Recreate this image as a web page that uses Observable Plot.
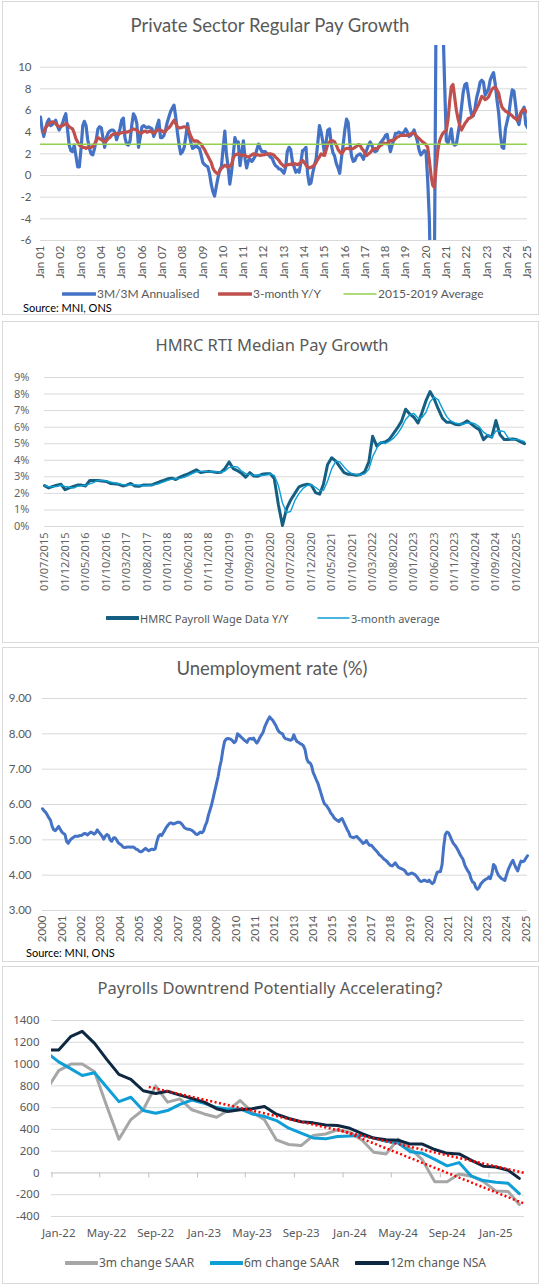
<!DOCTYPE html>
<html><head><meta charset="utf-8">
<script src="https://cdn.jsdelivr.net/npm/d3@7"></script>
<script src="https://cdn.jsdelivr.net/npm/@observablehq/plot@0.6"></script>
<style>
body{margin:0;background:#fff;}
#page{position:relative;width:542px;height:1285px;overflow:hidden;background:#fff;}
.abs{position:absolute;white-space:nowrap;line-height:1;}
.frame{position:absolute;border:1px solid #d9d9d9;box-sizing:border-box;pointer-events:none;}
</style></head><body><div id="page"></div>
<script>
// ---------- Panel 1: Private Sector Regular Pay Growth (monthly from Jan 2001) ----------
const payStart = "2001-01";
const pay3m3mAnnualised = [
 5.4,4.2,3.6,4.3,4.9,5.2,4.6,4.7,4.9,5.1,4.6,4.2,
 4.5,4.8,5.3,5.7,4.3,2.8,2.3,2.2,2.8,1.8,0.8,0.8,
 2.5,4.6,5.0,4.6,3.3,2.5,2.0,1.9,2.5,3.3,4.3,4.5,
 4.4,3.4,2.6,3.5,3.9,4.1,4.2,4.2,4.0,3.3,3.8,4.3,
 5.1,5.3,3.5,2.9,2.8,3.2,4.6,5.7,5.4,4.8,2.6,3.5,
 4.5,4.6,4.5,4.4,4.5,4.4,4.3,3.6,4.0,4.6,5.1,3.5,
 3.5,3.7,4.2,4.9,5.4,5.9,6.2,6.5,5.4,4.0,2.8,2.0,
 2.2,2.6,3.6,4.8,3.8,3.0,2.5,2.6,2.8,2.6,2.5,1.9,
 1.2,1.0,0.9,0.8,0.2,-0.8,-1.5,-1.9,-1.0,-0.2,0.5,0.8,
 2.5,4.1,2.0,0.8,-0.8,0.3,1.8,3.5,3.0,3.1,0.9,2.0,
 3.2,1.5,0.7,1.4,1.5,1.3,1.5,1.8,2.4,2.9,2.5,2.2,
 2.2,2.2,2.0,1.9,1.7,1.6,1.2,0.9,0.8,0.6,0.6,0.4,
 0.2,0.8,2.2,2.6,2.4,1.3,0.8,0.3,0.5,0.3,1.2,2.3,
 2.4,2.6,0.2,-0.8,-0.7,0.2,0.9,1.5,3.0,4.6,4.0,3.1,
 2.0,3.2,4.2,4.3,2.9,2.1,1.8,1.1,0.7,0.2,1.6,2.8,
 4.2,5.2,4.9,3.0,1.8,1.3,1.4,1.8,1.9,2.0,1.8,1.5,
 2.0,2.4,2.8,3.1,2.8,2.3,2.2,2.3,2.7,3.0,3.2,3.4,
 3.7,3.8,3.0,2.2,2.8,3.3,3.9,3.9,4.0,3.9,3.9,4.0,
 4.3,4.0,3.6,3.7,3.9,4.2,3.7,3.1,2.3,1.9,2.1,2.3,
 2.2,-0.5,-4,-12,-14,-8,16,20,18,15,14,8.5,
 3.2,3.0,3.5,4.3,3.0,2.8,2.9,3.9,4.9,6.3,7.7,8.4,
 8.5,7.5,6.4,5.6,5.5,6.2,7.2,7.8,8.6,8.8,8.6,7.4,
 7.7,8.0,8.8,9.2,9.5,8.4,7.0,5.8,3.8,2.6,2.5,4.3,
 5.0,5.7,6.9,7.9,7.8,6.5,5.1,4.7,5.6,6.0,6.3,4.7,
 4.4
];
const pay3mYoY = [
 null,null,4.0,4.4,4.6,4.8,4.9,4.95,4.9,4.8,4.6,4.5,
 4.55,4.6,4.7,4.8,4.7,4.5,4.4,4.3,3.9,3.4,3.1,2.8,
 2.7,2.6,2.6,2.5,2.6,2.6,2.6,2.7,2.9,3.2,3.5,3.4,
 3.3,3.2,3.1,3.2,3.4,3.5,3.7,3.8,3.9,3.85,3.8,3.9,
 3.95,4.0,4.0,4.0,4.05,4.1,4.2,4.3,4.25,4.2,4.0,3.9,
 3.95,4.05,4.1,4.0,4.05,4.1,4.0,3.9,4.0,4.2,4.2,4.2,
 4.1,4.0,4.1,4.3,4.4,4.6,4.85,5.1,4.8,4.5,4.4,4.4,
 4.45,4.5,4.45,4.4,4.0,3.6,3.3,3.15,3.2,3.15,3.0,2.9,
 2.6,2.4,2.1,1.8,1.5,1.2,0.7,0.4,0.25,0.15,0.4,0.65,
 0.8,0.95,0.85,0.75,0.9,1.0,1.6,1.9,1.95,2.0,1.9,1.85,
 1.9,1.85,1.75,1.7,1.8,1.9,2.0,1.95,1.9,1.9,1.85,1.9,
 1.9,1.95,2.0,2.0,2.0,1.95,1.9,1.7,1.55,1.4,1.15,1.0,
 0.85,0.9,1.0,1.0,1.05,1.0,1.1,1.05,1.0,1.1,1.2,1.4,
 1.2,0.95,0.8,0.7,0.75,0.85,0.95,1.2,1.5,1.7,2.0,1.9,
 1.85,2.4,2.9,3.1,3.2,3.2,3.1,2.8,2.4,2.2,2.0,2.2,
 2.45,2.5,2.5,2.45,2.45,2.5,2.6,2.7,2.85,2.8,2.5,2.3,
 2.0,1.85,2.0,2.1,2.3,2.45,2.5,2.45,2.6,2.75,2.85,3.0,
 2.95,2.95,3.1,3.2,3.25,3.25,3.4,3.55,3.6,3.7,3.7,3.7,
 3.7,3.7,3.75,3.85,3.9,3.9,3.7,3.55,3.4,3.25,3.1,3.0,
 2.85,2.6,1.4,0.0,-0.9,-1.1,0.7,2.3,3.2,3.6,3.9,4.05,
 4.15,5.2,6.8,8.2,8.4,7.2,6.0,5.2,4.6,4.2,4.5,4.8,
 5.0,5.25,5.3,5.4,5.6,5.9,6.2,6.5,6.9,7.3,7.2,7.0,
 7.1,7.25,7.6,7.95,8.1,8.15,7.9,7.6,6.8,6.3,6.1,5.95,
 5.85,5.75,5.65,5.5,5.35,5.25,5.1,5.3,5.8,6.0,6.15,5.95,
 5.85
];
const avg2015to2019 = [2.88];
const payYTicks = [-6,-4,-2,0,2,4,6,8,10];
const payTickYears = [2001,2002,2003,2004,2005,2006,2007,2008,2009,2010,2011,2012,2013,2014,2015,2016,2017,2018,2019,2020,2021,2022,2023,2024,2025];

// ---------- Panel 2: HMRC RTI Median Pay Growth (monthly from Jul 2015) ----------
const rtiStart = "2015-07";
const rtiPayrollYoY = [
 2.47,2.33,2.42,2.50,2.55,2.22,
 2.33,2.42,2.50,2.50,2.45,2.78,2.78,2.78,2.75,2.72,2.60,2.58,
 2.55,2.45,2.50,2.60,2.45,2.43,2.50,2.50,2.50,2.60,2.70,2.78,
 2.88,2.92,2.84,2.98,3.08,3.18,3.30,3.42,3.26,3.30,3.33,3.30,
 3.26,3.28,3.50,3.90,3.50,3.38,3.22,2.98,3.25,3.05,3.04,3.15,
 3.18,3.18,2.90,1.30,0.06,1.10,1.60,2.00,2.40,2.50,2.55,2.50,
 2.05,1.95,2.55,3.75,4.15,3.95,3.60,3.25,3.15,3.14,3.10,3.14,
 3.30,3.90,5.45,4.85,5.06,5.10,5.25,5.60,5.95,6.35,7.08,6.80,
 6.60,6.25,6.85,7.60,8.15,7.70,7.10,6.55,6.30,6.30,6.18,6.15,
 6.22,6.38,6.20,6.00,5.85,5.25,5.50,5.40,6.40,5.55,5.25,5.25,
 5.28,5.25,5.12,5.00
];
const rti3mAverage = [
 2.47,2.40,2.41,2.42,2.49,2.42,
 2.37,2.32,2.42,2.47,2.48,2.58,2.67,2.78,2.77,2.75,2.69,2.63,
 2.58,2.53,2.50,2.52,2.52,2.49,2.46,2.48,2.50,2.53,2.60,2.69,
 2.79,2.86,2.88,2.91,2.97,3.08,3.19,3.30,3.33,3.33,3.30,3.31,
 3.30,3.28,3.35,3.56,3.63,3.59,3.37,3.19,3.15,3.09,3.11,3.08,
 3.12,3.17,3.09,2.46,1.42,0.82,0.92,1.57,2.00,2.30,2.48,2.52,
 2.37,2.17,2.18,2.75,3.48,3.95,3.90,3.60,3.33,3.18,3.13,3.13,
 3.18,3.45,4.22,4.73,5.12,5.00,5.14,5.32,5.60,5.97,6.46,6.74,
 6.83,6.55,6.57,6.90,7.53,7.82,7.65,7.12,6.65,6.38,6.26,6.21,
 6.18,6.25,6.27,6.19,6.02,5.70,5.53,5.38,5.77,5.78,5.73,5.35,
 5.26,5.26,5.22,5.12
];
const rtiYTicks = [0,1,2,3,4,5,6,7,8,9];
const rtiTickMonths = ["2015-07","2015-12","2016-05","2016-10","2017-03","2017-08","2018-01","2018-06","2018-11","2019-04","2019-09","2020-02","2020-07","2020-12","2021-05","2021-10","2022-03","2022-08","2023-01","2023-06","2023-11","2024-04","2024-09","2025-02"];

// ---------- Panel 3: Unemployment rate (monthly from Jan 2000) ----------
const unempStart = "2000-01";
const unemploymentRate = [
 5.88,5.82,5.78,5.70,5.62,5.55,5.38,5.28,5.26,5.32,5.38,5.30,
 5.22,5.18,5.15,4.95,4.90,4.98,5.03,5.06,5.10,5.10,5.10,5.12,
 5.12,5.15,5.18,5.17,5.14,5.18,5.22,5.20,5.16,5.20,5.28,5.22,
 5.16,5.10,5.02,5.10,5.15,5.12,5.00,4.96,5.05,5.06,5.00,4.92,
 4.88,4.85,4.80,4.78,4.79,4.80,4.80,4.79,4.80,4.78,4.74,4.72,
 4.68,4.66,4.68,4.72,4.76,4.72,4.69,4.72,4.74,4.72,4.75,4.95,
 5.10,5.15,5.12,5.20,5.28,5.36,5.42,5.47,5.48,5.45,5.46,5.48,
 5.50,5.50,5.47,5.42,5.35,5.32,5.30,5.30,5.28,5.26,5.22,5.17,
 5.15,5.18,5.22,5.20,5.25,5.40,5.50,5.70,5.85,6.00,6.20,6.40,
 6.60,6.80,7.05,7.25,7.55,7.78,7.85,7.87,7.86,7.84,7.80,7.75,
 7.80,8.00,7.97,7.92,7.88,7.83,7.80,7.76,7.85,7.87,7.85,7.88,
 7.80,7.74,7.80,7.90,7.97,8.05,8.20,8.30,8.40,8.48,8.42,8.38,
 8.30,8.22,8.12,8.05,8.02,8.00,7.90,7.86,7.85,7.83,7.82,7.85,
 7.97,7.85,7.78,7.76,7.72,7.70,7.66,7.55,7.30,7.20,7.18,7.10,
 6.90,6.80,6.70,6.60,6.45,6.30,6.15,6.02,5.98,5.92,5.85,5.75,
 5.70,5.62,5.58,5.55,5.52,5.58,5.60,5.50,5.40,5.30,5.22,5.10,
 5.08,5.06,5.08,5.10,5.05,5.00,4.95,4.90,4.92,4.98,4.90,4.85,
 4.85,4.80,4.75,4.70,4.65,4.58,4.55,4.50,4.45,4.42,4.38,4.32,
 4.28,4.26,4.30,4.35,4.28,4.22,4.20,4.18,4.16,4.12,4.05,4.02,
 4.04,4.06,4.05,4.02,3.98,3.92,3.85,3.82,3.84,3.86,3.84,3.82,
 3.86,3.80,3.76,3.80,3.95,4.08,4.10,4.10,4.30,4.80,5.15,5.22,
 5.20,5.10,5.00,4.90,4.85,4.78,4.70,4.60,4.52,4.45,4.30,4.20,
 4.12,4.05,3.90,3.80,3.78,3.65,3.60,3.65,3.75,3.80,3.85,3.88,
 3.90,3.95,3.90,4.05,4.30,4.25,4.10,4.00,3.95,3.90,3.88,3.85,
 4.00,4.15,4.25,4.35,4.42,4.30,4.20,4.12,4.28,4.40,4.38,4.40,
 4.48,4.55
];
const unempYTicks = [3,4,5,6,7,8,9];
const unempTickYears = [2000,2001,2002,2003,2004,2005,2006,2007,2008,2009,2010,2011,2012,2013,2014,2015,2016,2017,2018,2019,2020,2021,2022,2023,2024,2025];

// ---------- Panel 4: Payrolls (monthly from Dec 2021, thousands) ----------
const payrollStart = "2021-12";
const change3mSAAR = [760, 940,1000,1000,930,620,310,490,580,800,650,680,580, 542,512,573,665,558,488,303,261,251,343,358,395, 374,300,190,175,310,225,120,-80,-80,-10,-30,-80, -165,-170,-290];
const change6mSAAR = [1110, 1020,956,895,920,790,655,695,573,548,573,630,670, 640,600,588,588,542,518,481,411,365,322,313,334, 340,345,320,290,275,195,180,125,65,95,-30,-70, -85,-95,-190];
const change12mNSA = [1130, 1130,1255,1300,1190,1045,905,860,755,730,750,715,685, 650,590,565,580,590,610,540,500,470,460,440,435, 410,360,320,305,300,265,265,215,180,175,115,62, 55,25,-50];
const trendUpperDates = ["2022-08-15","2025-03-14"];
const trendUpperValues = [790, 0];
const trendLowerDates = ["2023-12-01","2025-03-14"];
const trendLowerValues = [405, -283];
const payrollYTicks = [-400,-200,0,200,400,600,800,1000,1200,1400];
const payrollTickMonths = ["2022-01","2022-05","2022-09","2023-01","2023-05","2023-09","2024-01","2024-05","2024-09","2025-01"];

// ---------- helpers ----------
const page = document.getElementById("page");
const toDate = s => new Date((s.length === 7 ? s + "-01" : s) + "T00:00:00Z");
const monthly = (start, values) => values.map((v, i) => ({date: d3.utcMonth.offset(toDate(start), i), value: v}));
const GRID = "#d9d9d9", TXT = "#595959";

function frame(top, height) {
  const f = document.createElement("div");
  f.className = "frame";
  Object.assign(f.style, {left: "2px", top: top + "px", width: "537px", height: height + "px"});
  page.appendChild(f);
}
function text(str, x, y, {size = 12, family = "Lato", color = TXT, anchor = "middle"} = {}) {
  const t = document.createElement("div");
  t.className = "abs";
  t.textContent = str;
  Object.assign(t.style, {left: x + "px", top: y + "px", fontSize: size + "px", fontFamily: family, color,
    transform: anchor === "middle" ? "translate(-50%,-50%)" : "translate(0,-50%)"});
  page.appendChild(t);
}
function swatch(x1, x2, y, color, width) {
  const ns = "http://www.w3.org/2000/svg";
  const s = document.createElementNS(ns, "svg");
  s.setAttribute("width", x2 - x1); s.setAttribute("height", 10);
  Object.assign(s.style, {position: "absolute", left: x1 + "px", top: (y - 5) + "px"});
  const l = document.createElementNS(ns, "line");
  l.setAttribute("x1", 1); l.setAttribute("x2", x2 - x1 - 1); l.setAttribute("y1", 5); l.setAttribute("y2", 5);
  l.setAttribute("stroke", color); l.setAttribute("stroke-width", width); l.setAttribute("stroke-linecap", "round");
  s.appendChild(l);
  page.appendChild(s);
}
function place(svg, top) {
  svg.style.position = "absolute"; svg.style.left = "0px"; svg.style.top = top + "px";
  page.appendChild(svg);
}

// ---------- Panel 1 ----------
frame(1, 314);
text("Private Sector Regular Pay Growth", 270, 25, {size: 18.5});
const payBlue = monthly(payStart, pay3m3mAnnualised);
const payRed = monthly(payStart, pay3mYoY);
place(Plot.plot({
  width: 542, height: 248, marginLeft: 40, marginRight: 15, marginTop: 3, marginBottom: 50,
  style: {fontFamily: "Lato", fontSize: "11.5px", color: TXT, background: "transparent"},
  x: {type: "utc", domain: [toDate("2001-01"), toDate("2025-01")], ticks: payTickYears.map(y => toDate(y + "-01")),
      tickFormat: d3.utcFormat("%b %y"), tickRotate: -90, tickSize: 0, tickPadding: 5, label: null},
  y: {domain: [-6, 12], ticks: payYTicks, tickFormat: d => String(d), tickSize: 0, tickPadding: 9, label: null},
  marks: [
    Plot.ruleY(payYTicks, {stroke: GRID, strokeWidth: 1}),
    Plot.line(payBlue, {x: "date", y: "value", stroke: "#4472C4", strokeWidth: 3.2, clip: true}),
    Plot.line(payRed, {x: "date", y: "value", stroke: "#C0504D", strokeWidth: 3.2, clip: true}),
    Plot.ruleY(avg2015to2019, {stroke: "#92D050", strokeWidth: 1.5})
  ]
}), 42);
swatch(62, 96, 294, "#4472C4", 3.5); text("3M/3M Annualised", 97, 294, {size: 12, anchor: "start"});
swatch(218, 252, 294, "#C0504D", 3.5); text("3-month Y/Y", 253, 294, {size: 12, anchor: "start"});
swatch(343, 377, 294, "#92D050", 1.5); text("2015-2019 Average", 378, 294, {size: 12, anchor: "start"});
text("Source: MNI, ONS", 23, 307, {size: 11, color: "#000", anchor: "start"});

// ---------- Panel 2 ----------
frame(321, 322);
text("HMRC RTI Median Pay Growth", 272, 345, {size: 16.5, family: "Noto Sans"});
const rtiDark = monthly(rtiStart, rtiPayrollYoY);
const rtiLight = monthly(rtiStart, rti3mAverage);
place(Plot.plot({
  width: 542, height: 230, marginLeft: 44, marginRight: 18, marginTop: 7, marginBottom: 74,
  style: {fontFamily: "Noto Sans", fontSize: "11px", color: "#666", background: "transparent"},
  x: {type: "utc", domain: [toDate("2015-07"), toDate("2025-04")], ticks: rtiTickMonths.map(toDate),
      tickFormat: d3.utcFormat("01/%m/%Y"), tickRotate: -90, tickSize: 0, tickPadding: 6, label: null},
  y: {domain: [0, 9], ticks: rtiYTicks, tickFormat: d => d + "%", tickSize: 0, tickPadding: 15, label: null},
  marks: [
    Plot.ruleY(rtiYTicks, {stroke: GRID, strokeWidth: 1}),
    Plot.line(rtiDark, {x: "date", y: "value", stroke: "#156082", strokeWidth: 3}),
    Plot.line(rtiLight, {x: "date", y: "value", stroke: "#0F9ED5", strokeWidth: 1.4})
  ]
}), 370);
swatch(106, 139, 618, "#156082", 4); text("HMRC Payroll Wage Data Y/Y", 140, 618, {size: 11, family: "Noto Sans", anchor: "start"});
swatch(317, 350, 618, "#0F9ED5", 1.5); text("3-month average", 351, 618, {size: 11, family: "Noto Sans", anchor: "start"});

// ---------- Panel 3 ----------
frame(647, 315);
text("Unemployment rate (%)", 272, 668, {size: 18.5});
const unemp = monthly(unempStart, unemploymentRate);
place(Plot.plot({
  width: 542, height: 256, marginLeft: 42, marginRight: 15, marginTop: 8, marginBottom: 36,
  style: {fontFamily: "Lato", fontSize: "11.5px", color: TXT, background: "transparent"},
  x: {type: "utc", domain: [toDate("2000-01"), toDate("2025-02")], ticks: unempTickYears.map(y => toDate(y + "-01")),
      tickFormat: d3.utcFormat("%Y"), tickRotate: -90, tickSize: 0, tickPadding: 5, label: null},
  y: {domain: [3, 9], ticks: unempYTicks, tickFormat: d3.format(".2f"), tickSize: 0, tickPadding: 11, label: null},
  marks: [
    Plot.ruleY(unempYTicks, {stroke: GRID, strokeWidth: 1}),
    Plot.line(unemp, {x: "date", y: "value", stroke: "#4472C4", strokeWidth: 3})
  ]
}), 690);
text("Source: MNI, ONS", 26, 952, {size: 11, color: "#000", anchor: "start"});

// ---------- Panel 4 ----------
frame(966, 318);
text("Payrolls Downtrend Potentially Accelerating?", 270, 988, {size: 16.5, family: "Noto Sans"});
const p3m = monthly(payrollStart, change3mSAAR);
const p6m = monthly(payrollStart, change6mSAAR);
const p12m = monthly(payrollStart, change12mNSA);
const trendUpper = trendUpperDates.map((s, i) => ({date: toDate(s), value: trendUpperValues[i]}));
const trendLower = trendLowerDates.map((s, i) => ({date: toDate(s), value: trendLowerValues[i]}));
const axisTickMarks = payrollTickMonths.map(s => d3.utcDay.offset(toDate(s), -17));
place(Plot.plot({
  width: 542, height: 235, marginLeft: 51, marginRight: 18, marginTop: 10, marginBottom: 29,
  style: {fontFamily: "Noto Sans", fontSize: "11.5px", color: TXT, background: "transparent"},
  x: {type: "utc", domain: [toDate("2021-12-14"), toDate("2025-03-14")], ticks: payrollTickMonths.map(toDate),
      tickFormat: d3.utcFormat("%b-%y"), tickSize: 0, tickPadding: 12, label: null},
  y: {domain: [-400, 1400], ticks: payrollYTicks, tickFormat: d => String(d), tickSize: 0, tickPadding: 12, label: null},
  marks: [
    Plot.ruleY(payrollYTicks.filter(v => v !== 0), {stroke: GRID, strokeWidth: 1}),
    Plot.ruleY([0], {stroke: "#bfbfbf", strokeWidth: 1}),
    Plot.ruleX(axisTickMarks, {y1: 0, y2: -46, stroke: "#bfbfbf", strokeWidth: 1}),
    Plot.line(p3m, {x: "date", y: "value", stroke: "#A6A6A6", strokeWidth: 3, clip: true}),
    Plot.line(p6m, {x: "date", y: "value", stroke: "#0F9ED5", strokeWidth: 3, clip: true}),
    Plot.line(p12m, {x: "date", y: "value", stroke: "#0E2841", strokeWidth: 3, clip: true}),
    Plot.line(trendUpper, {x: "date", y: "value", stroke: "#FF0000", strokeWidth: 2.5, strokeDasharray: "2,2.5", strokeLinecap: "butt", clip: true}),
    Plot.line(trendLower, {x: "date", y: "value", stroke: "#FF0000", strokeWidth: 2.5, strokeDasharray: "2,2.5", strokeLinecap: "butt", clip: true})
  ]
}), 1010);
swatch(65, 98, 1263, "#A6A6A6", 4); text("3m change SAAR", 99, 1263, {size: 12, family: "Noto Sans", anchor: "start"});
swatch(210, 243, 1263, "#0F9ED5", 4); text("6m change SAAR", 244, 1263, {size: 12, family: "Noto Sans", anchor: "start"});
swatch(355, 389, 1263, "#0E2841", 4); text("12m change NSA", 390, 1263, {size: 12, family: "Noto Sans", anchor: "start"});
</script></body></html>
